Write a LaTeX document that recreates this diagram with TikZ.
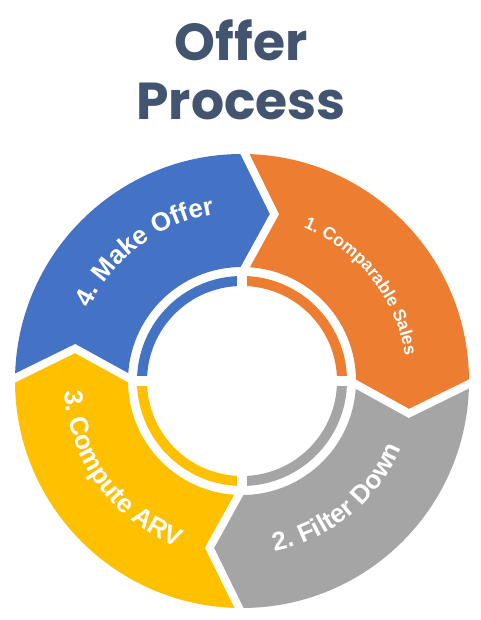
\documentclass[tikz,border=0pt]{standalone}
\usepackage{fontspec}
\setmainfont{Liberation Sans}
\newfontfamily\titlefont{Poppins}
\usetikzlibrary{decorations.text}
\definecolor{cblue}{HTML}{4472C4}
\definecolor{corange}{HTML}{ED7D31}
\definecolor{cgray}{HTML}{A5A5A5}
\definecolor{cyellow}{HTML}{FFC000}
\definecolor{ctitle}{HTML}{435470}
\newcommand\ringseg[3]{%
  \fill[#1] (#2:\Ro) arc[start angle=#2, end angle=#3, radius=\Ro]
    -- (#3-\tipd:\Rm) -- (#3:\Ri)
    arc[start angle=#3, end angle=#2, radius=\Ri]
    -- (#2-\tipd:\Rm) -- cycle;}
\newcommand\ringgap[1]{%
  \draw[gapline] (#1:\Ro+6) -- (#1-\tipd:\Rm) -- (#1:\Ri-6);}
\tikzset{
  titletext/.style={font=\titlefont\bfseries\fontsize{52}{52}\selectfont, text=ctitle, inner sep=0pt, anchor=base},
  gapline/.style={white, line width=8pt, line join=miter},
  thinarc/.style={line width=10pt},
}
\begin{document}
\begin{tikzpicture}[x=1pt,y=1pt]
\useasboundingbox (0,0) rectangle (480,620);
\node[titletext] (t1) at (241,559) {Offer};
\node[titletext] (t2) at (241,500) {Process};
\begin{scope}[shift={(242,239)}]
\def\Ro{227}\def\Ri{114}\def\Rm{170}\def\tipd{11}
\ringseg{cblue}{180}{90}
\ringseg{corange}{90}{0}
\ringseg{cgray}{0}{-90}
\ringseg{cyellow}{-90}{-180}
\ringgap{90}\ringgap{0}\ringgap{-90}\ringgap{-180}
% inner thin arcs
\draw[thinarc, corange] (0:100) arc[start angle=0, end angle=90, radius=100];
\draw[thinarc, cblue] (90:100) arc[start angle=90, end angle=180, radius=100];
\draw[thinarc, cyellow] (180:100) arc[start angle=180, end angle=270, radius=100];
\draw[thinarc, cgray] (270:100) arc[start angle=270, end angle=360, radius=100];
\fill[white] (-5,-110) rectangle (5,110);
\fill[white] (-110,-5) rectangle (110,5);
% labels
\path[decorate, decoration={text along path, text align=center, text color=white,
  text={|\fontsize{17.5}{17.5}\selectfont\bfseries|1. Comparable Sales}}]
  (84:165) arc[start angle=84, end angle=-7, radius=165];
\path[decorate, decoration={text along path, text align=center, text color=white,
  text={|\fontsize{26}{26}\selectfont\bfseries|4. Make Offer}}]
  (177:169) arc[start angle=177, end angle=77, radius=169];
\path[decorate, decoration={text along path, text align=center, text color=white,
  text={|\fontsize{26}{26}\selectfont\bfseries|3. Compute ARV}}]
  (166:178) arc[start angle=166, end angle=266, radius=178];
\path[decorate, decoration={text along path, text align=center, text color=white,
  text={|\fontsize{26}{26}\selectfont\bfseries|2. Filter Down}}]
  (-101:173) arc[start angle=-101, end angle=-1, radius=173];
\end{scope}
\end{tikzpicture}
\end{document}
